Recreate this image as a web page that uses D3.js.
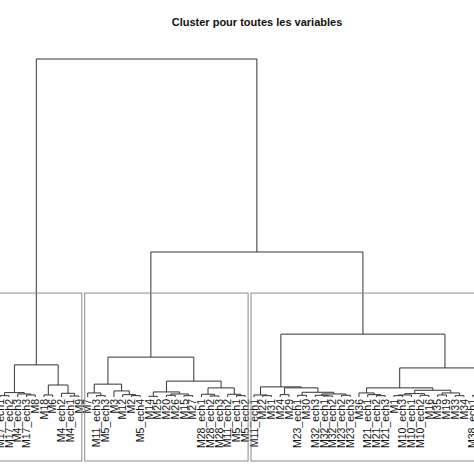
<!DOCTYPE html>
<html>
<head>
<meta charset="utf-8">
<script src="https://d3js.org/d3.v7.min.js"></script>
<style>
  html, body { margin: 0; padding: 0; background: #fff; }
  svg { display: block; }
  .title { font: bold 11px "Liberation Sans", Arial, Helvetica, sans-serif; fill: #111; }
  .leaf { font: 10.5px "Liberation Sans", Arial, Helvetica, sans-serif; fill: #111; }
</style>
</head>
<body>
<svg id="chart" width="474" height="474"></svg>
<script>
// leaf order, left to right (the last ones fall outside the picture)
const leaves = [
  "M17_ech1", "M17_ech2", "M4_ech3", "M17_ech3", "M8", "M18", "M6", "M4_ech2", "M4_ech1", "M9",
  "M7", "M11_ech3", "M5_ech3", "M3", "M12", "M2", "M5_ech4", "M14", "M25", "M20", "M26", "M15", "M27",
  "M28_ech1", "M28_ech2", "M28_ech3", "M11_ech2", "M5_ech1", "M5_ech2",
  "M11_ech1", "M22", "M31", "M24", "M29", "M23_ech1", "M30", "M32_ech3", "M32_ech1", "M32_ech2",
  "M23_ech2", "M23_ech3", "M36", "M21_ech1", "M21_ech2", "M21_ech3", "M1", "M10_ech3", "M10_ech1",
  "M10_ech2", "M16", "M35", "M19", "M33", "M34", "M38_ech1", "M38_ech2", "M38_ech3", "M13",
  "M37_ech1", "M37_ech2"
];

// merges: [left, right, height]; a string is a leaf, a number is an earlier merge
const merges = [
  ["M17_ech1", "M17_ech2", 0.04],   // 0
  ["M17_ech3", "M8", 0.06],         // 1
  ["M4_ech3", 1, 0.09],             // 2
  [0, 2, 0.13],                     // 3
  ["M18", "M6", 0.06],              // 4
  ["M4_ech1", "M9", 0.03],          // 5
  ["M4_ech2", 5, 0.11],             // 6
  [4, 6, 0.355],                    // 7
  [3, 7, 0.95],                     // 8  cluster 1
  ["M11_ech3", "M5_ech3", 0.04],    // 9
  ["M7", 9, 0.12],                  // 10
  ["M2", "M5_ech4", 0.04],          // 11
  ["M12", 11, 0.07],                // 12
  ["M3", 12, 0.18],                 // 13
  [10, 13, 0.38],                   // 14
  ["M14", "M25", 0.02],             // 15
  ["M20", "M26", 0.05],             // 16
  ["M15", "M27", 0.04],             // 17
  [16, 17, 0.09],                   // 18
  [15, 18, 0.15],                   // 19
  ["M28_ech2", "M28_ech3", 0.03],   // 20
  ["M28_ech1", 20, 0.08],           // 21
  ["M5_ech1", "M5_ech2", 0.04],     // 22
  ["M11_ech2", 22, 0.08],           // 23
  [21, 23, 0.27],                   // 24
  [19, 24, 0.47],                   // 25
  [14, 25, 1.18],                   // 26 cluster 2
  ["M22", "M31", 0.04],             // 27
  ["M11_ech1", 27, 0.06],           // 28
  ["M24", "M29", 0.07],             // 29
  ["M23_ech1", "M30", 0.05],        // 30
  ["M32_ech1", "M32_ech2", 0.03],   // 31
  ["M32_ech3", 31, 0.05],           // 32
  ["M23_ech2", "M23_ech3", 0.05],   // 33
  [32, 33, 0.09],                   // 34
  [30, 34, 0.14],                   // 35
  [29, 35, 0.27],                   // 36
  [28, 36, 0.30],                   // 37
  ["M21_ech2", "M21_ech3", 0.04],   // 38
  ["M21_ech1", 38, 0.07],           // 39
  ["M36", 39, 0.12],                // 40
  ["M1", "M10_ech3", 0.04],         // 41
  [41, "M10_ech1", 0.06],           // 42
  ["M10_ech2", "M16", 0.05],        // 43
  [42, 43, 0.10],                   // 44
  ["M35", "M19", 0.06],             // 45
  ["M33", "M34", 0.04],             // 46
  [45, 46, 0.12],                   // 47
  [44, 47, 0.20],                   // 48
  [40, 48, 0.27],                   // 49
  ["M38_ech1", "M38_ech2", 0.05],   // 50
  ["M38_ech3", "M13", 0.06],        // 51
  ["M37_ech1", "M37_ech2", 0.04],   // 52
  [51, 52, 0.10],                   // 53
  [50, 53, 0.30],                   // 54
  [49, 54, 0.86],                   // 55
  [37, 55, 1.86],                   // 56 cluster 3
  [26, 56, 4.29],                   // 57
  [8, 57, 10.0]                     // 58 root
];

const clusterCount = 3;
const title = "Cluster pour toutes les variables";

const svg = d3.select("#chart");
const step = 8.75, x0 = 0.2;

const x = d3.scalePoint()
  .domain(leaves)
  .range([x0, x0 + (leaves.length - 1) * step]);

const y = d3.scaleLinear()
  .domain([0, 10])
  .range([397, 59]);

// position of a node: leaf -> scale, merge -> middle of its children
const pos = [];
function nodePos(ref) {
  if (typeof ref === "string") return { x: x(ref), h: 0, first: leaves.indexOf(ref), last: leaves.indexOf(ref) };
  return pos[ref];
}
merges.forEach(function (m, i) {
  const a = nodePos(m[0]), b = nodePos(m[1]);
  pos[i] = { x: (a.x + b.x) / 2, h: m[2], a: a, b: b, first: Math.min(a.first, b.first), last: Math.max(a.last, b.last) };
});

// dendrogram branches
svg.append("g")
  .selectAll("path")
  .data(pos)
  .enter()
  .append("path")
  .attr("fill", "none")
  .attr("stroke", "#333")
  .attr("stroke-width", 1)
  .attr("d", function (d) {
    return "M" + d.a.x + "," + y(d.a.h) +
      "V" + y(d.h) + "H" + d.b.x + "V" + y(d.b.h);
  });

// leaf labels
svg.append("g")
  .selectAll("text")
  .data(leaves)
  .enter()
  .append("text")
  .attr("class", "leaf")
  .attr("text-anchor", "end")
  .attr("dy", "0.35em")
  .attr("transform", function (d) { return "translate(" + x(d) + "," + (y(0) + 2) + ") rotate(-90)"; })
  .text(function (d) { return d; });

// rect.hclust style boxes around the k clusters
const heightsDesc = merges.map(function (m) { return m[2]; }).sort(function (a, b) { return b - a; });
const cutH = (heightsDesc[clusterCount - 2] + heightsDesc[clusterCount - 1]) / 2;
// the k groups: split the highest node until there are k of them
let groups = [pos[pos.length - 1]];
while (groups.length < clusterCount) {
  groups.sort(function (a, b) { return b.h - a.h; });
  const top = groups.shift();
  groups.push(top.a, top.b);
}
groups.sort(function (a, b) { return a.first - b.first; });

svg.append("g")
  .selectAll("rect")
  .data(groups)
  .enter()
  .append("rect")
  .attr("fill", "none")
  .attr("stroke", "#8a8a8a")
  .attr("stroke-width", 1)
  .attr("x", function (d) { return x(leaves[d.first]) - 0.34 * step; })
  .attr("width", function (d) { return x(leaves[d.last]) - x(leaves[d.first]) + 0.67 * step; })
  .attr("y", y(cutH))
  .attr("height", 461 - y(cutH));

svg.append("text")
  .attr("class", "title")
  .attr("x", 257)
  .attr("y", 26)
  .attr("text-anchor", "middle")
  .text(title);
</script>
</body>
</html>
